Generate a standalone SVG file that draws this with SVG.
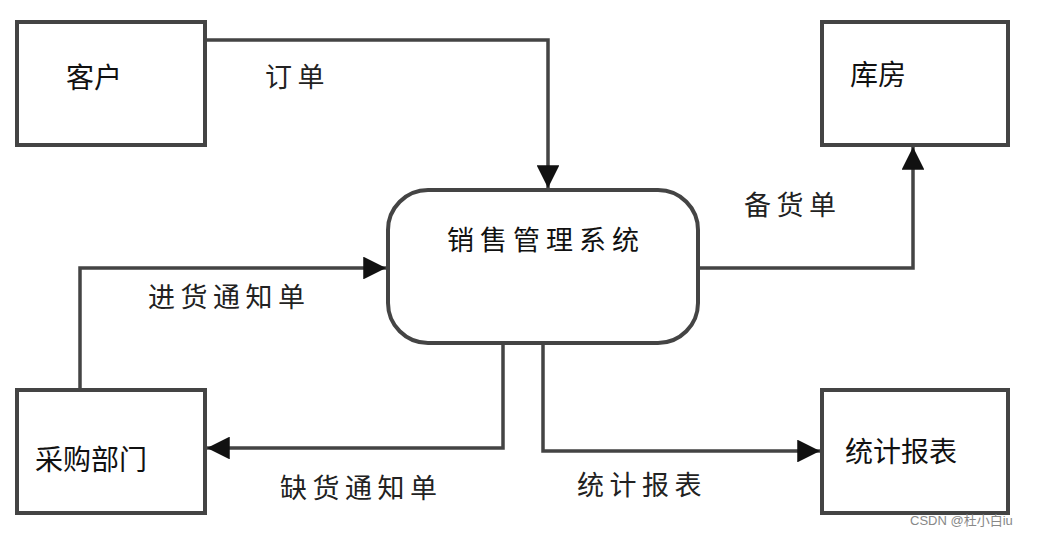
<svg xmlns="http://www.w3.org/2000/svg" width="1050" height="536" viewBox="0 0 1050 536">
<defs>
<marker id="arr" viewBox="0 0 10 10" refX="10" refY="5" markerWidth="6.5" markerHeight="6.5" markerUnits="strokeWidth" orient="auto">
<path d="M0,0 L10,5 L0,10 z" fill="#111"/>
</marker>
<style>
.box{fill:#fff;stroke:#444;stroke-width:4}
.ln{fill:none;stroke:#444;stroke-width:3.5}
.t{font-family:"Noto Sans CJK SC","Liberation Sans",sans-serif;font-size:28px;fill:#111}
.lb{font-family:"Noto Sans CJK SC","Liberation Sans",sans-serif;font-size:27px;fill:#222;letter-spacing:5.5px}
</style>
</defs>
<rect width="1050" height="536" fill="#fff"/>
<g id="connectors">
<polyline class="ln" points="205,40 548,40 548,188" marker-end="url(#arr)"/>
<polyline class="ln" points="698,268 913,268 913,147" marker-end="url(#arr)"/>
<polyline class="ln" points="80,390 80,268 386,268" marker-end="url(#arr)"/>
<polyline class="ln" points="503,343 503,448 207,448" marker-end="url(#arr)"/>
<polyline class="ln" points="543,343 543,451 820,451" marker-end="url(#arr)"/>
<text class="lb" x="265" y="87">订单</text>
<text class="lb" x="744" y="215">备货单</text>
<text class="lb" x="148" y="307">进货通知单</text>
<text class="lb" x="280" y="498">缺货通知单</text>
<text class="lb" x="577" y="495">统计报表</text>
</g>
<g id="kehu">
<rect class="box" x="17" y="22" width="188" height="123"/>
<text class="t" x="66" y="88">客户</text>
</g>
<g id="kufang">
<rect class="box" x="822" y="22" width="186" height="123"/>
<text class="t" x="850" y="85">库房</text>
</g>
<g id="xitong">
<rect class="box" x="388" y="190" width="310" height="153" rx="40" ry="40"/>
<text class="t" x="447" y="250" style="font-size:27px;letter-spacing:6px">销售管理系统</text>
</g>
<g id="caigou">
<rect class="box" x="17" y="390" width="188" height="123"/>
<text class="t" x="35" y="470">采购部门</text>
</g>
<g id="tongji">
<rect class="box" x="822" y="390" width="186" height="123"/>
<text class="t" x="845" y="462">统计报表</text>
</g>
<text x="910" y="525" style="font-family:'Liberation Sans','Noto Sans CJK SC',sans-serif;font-size:13px;fill:#888">CSDN @杜小白iu</text>
</svg>
